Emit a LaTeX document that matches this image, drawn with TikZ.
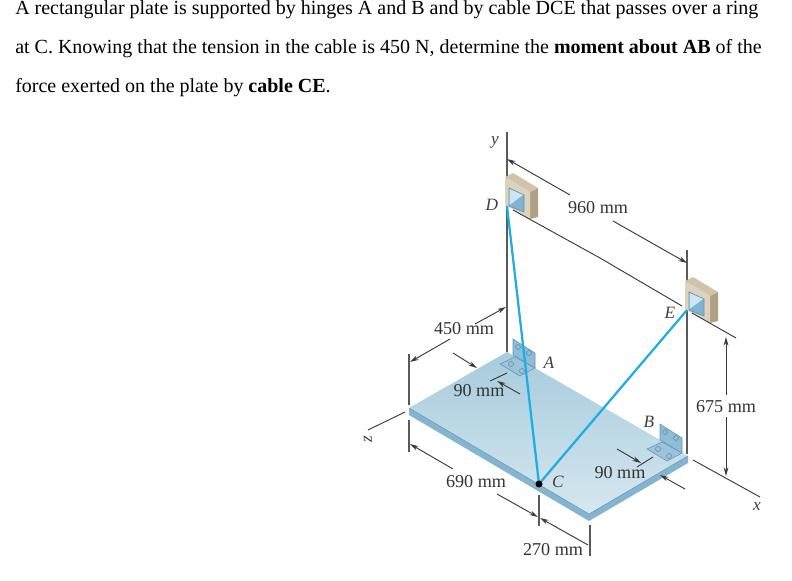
\documentclass[tikz,border=0pt]{standalone}
\usepackage{fontspec}
\setmainfont{Liberation Serif}
\usetikzlibrary{arrows.meta, positioning, calc}
\definecolor{cablecol}{HTML}{1FAEE2}
\definecolor{dimcol}{HTML}{3A3A3A}
\definecolor{extcol}{HTML}{5A5A5A}
\definecolor{sidecol}{HTML}{84B4CF}
\definecolor{platetop}{HTML}{A6CBDD}
\definecolor{platelow}{HTML}{D6E7EF}
\definecolor{hingecol}{HTML}{8FBDD6}
\definecolor{hingebase}{HTML}{9CC4D9}
\definecolor{hingedark}{HTML}{5F94B5}
\definecolor{tantop}{HTML}{CFC3A8}
\definecolor{tanside}{HTML}{AFA185}
\definecolor{tanfront}{HTML}{DDD3BC}
\definecolor{paneldark}{HTML}{7FB4D0}
\definecolor{panellight}{HTML}{CFE6F2}
\tikzset{
    para/.style={anchor=base west, font=\fontsize{15}{16}\selectfont, inner sep=0pt},
    dimtext/.style={font=\fontsize{13.6}{14}\selectfont, text=black!80, inner sep=0pt},
    letter/.style={font=\fontsize{13}{14}\selectfont\itshape, text=black!75, inner sep=0pt},
    dimline/.style={dimcol, line width=0.7pt},
    dimarrow/.style={dimcol, line width=0.7pt, -{Stealth[length=6.5pt,width=3.6pt]}},
    extline/.style={extcol, line width=0.9pt},
    cable/.style={cablecol, line width=1.7pt},
}
\begin{document}
\begin{tikzpicture}[x=0.75pt, y=-0.75pt]
    \useasboundingbox (0,0) rectangle (792,581);

    % problem text
    \node[para] (lineone) at (15,15) {A rectangular plate is supported by hinges A and B and by cable DCE that passes over a ring};
    \node[para] (linetwo) at (15,54) {at C. Knowing that the tension in the cable is 450 N, determine the \textbf{moment about AB} of the};
    \node[para] (linethree) at (15,93) {force exerted on the plate by \textbf{cable CE}.};

    % main points
    \coordinate (D) at (507,206);
    \coordinate (E) at (687,310);
    \coordinate (C) at (539,484);
    \coordinate (left) at (409,408);
    \coordinate (back) at (507,352);
    \coordinate (right) at (688,456);
    \coordinate (front) at (589,514);

    % vertical lines
    \draw[extline] (507,132) -- (back);
    \draw[extline] (687,250) -- (687,454);
    \draw[extline] (409,354) -- (409,405);
    \draw[extline] (409,420) -- (409,452);
    \draw[extline] (539,495) -- (539,526);
    \draw[extline] (590,525) -- (590,556);

    % plate
    \fill[sidecol] (left) -- (front) -- (right) -- ++(0,7) -- ($(front)+(0,7)$) -- ($(left)+(0,7)$) -- cycle;
    \shade[top color=platetop, bottom color=platelow] (left) -- (back) -- (right) -- (front) -- cycle;
    \draw[hingedark, line width=0.4pt] (left) -- (front) -- (right);

    % wall brackets
    \foreach \pt in {D,E} {
        \begin{scope}[shift={(\pt)}]
            \fill[tantop] (-2,-29) -- (6,-33) -- (31,-18) -- (23,-14) -- cycle;
            \fill[tanside] (23,-14) -- (31,-18) -- (31,11) -- (23,13) -- cycle;
            \fill[tanfront] (-2,-29) -- (23,-14) -- (23,13) -- (-2,-1) -- cycle;
            \fill[paneldark, draw=hingedark, line width=0.5pt] (2,-18) -- (17,-11) -- (17,6) -- (2,0) -- cycle;
            \fill[panellight] (2.5,-17) -- (16,-11) -- (2.5,-1) -- cycle;
        \end{scope}
    }
    \draw[dimline] (513,210) -- (600,258) -- (682,306);
    \draw[dimline] (692,313) -- (736,338);

    % hinges
    \foreach \hx/\hy in {513/339, 660/424} {
        \begin{scope}[shift={(\hx,\hy)}]
            \fill[hingecol, draw=hingedark, line width=0.4pt] (0,0) -- (22,14) -- (22,29) -- (0,16) -- cycle;
            \fill[hingebase, draw=hingedark, line width=0.4pt] (-13,25) -- (7,37) -- (22,29) -- (2,18) -- cycle;
            \foreach \ox/\oy in {5/8, 16/14, -2/25, 9/32}
                \draw[hingedark, line width=0.5pt] (\ox,\oy) circle (2.5);
        \end{scope}
    }

    % cables
    \draw[cable] (D) -- (C);
    \draw[cable] (C) -- (E);
    \fill[black] (C) circle (3.5);

    % dimensions
    \draw[dimarrow] (570,195) -- (507,159);
    \draw[dimarrow] (613,221) -- (687,263);
    \node[dimtext] (dimcd) at (598,208) {960 mm};
    \draw[dimarrow] (475,324) -- (506,307);
    \draw[dimarrow] (450,339) -- (410,362);
    \node[dimtext] (dimaw) at (464,329) {450 mm};
    \draw[dimarrow] (453,353) -- (477,368);
    \draw[dimline] (490,381) -- (507,373);
    \draw[dimarrow] (520,394) -- (497,381);
    \node[dimtext] (dimat) at (479,391) {90 mm};
    \draw[dimarrow] (726,395) -- (726,337);
    \draw[dimarrow] (726,417) -- (726,476);
    \node[dimtext] (dimht) at (726,407) {675 mm};
    \draw[dimline] (693,460) -- (760,497);
    \draw[dimarrow] (617,449) -- (641,463);
    \draw[dimline] (637,467) -- (653,457);
    \draw[dimarrow] (685,489) -- (660,475);
    \node[dimtext] (dimbt) at (620,473) {90 mm};
    \draw[dimarrow] (453,469) -- (410,444);
    \node[dimtext] (dimlg) at (476,482) {690 mm};
    \draw[dimarrow] (497,494) -- (538,517);
    \draw[dimarrow] (588,545) -- (540,518);
    \node[dimtext] (dimcf) at (553,550) {270 mm};
    \draw[dimline] (405,412) -- (368,430);

    % letters
    \node[letter] (laby) at (495,142) {y};
    \node[letter] (labd) at (492,205) {D};
    \node[letter] (labe) at (670,313) {E};
    \node[letter] (laba) at (549,363) {A};
    \node[letter] (labb) at (649,422) {B};
    \node[letter] (labc) at (558,482) {C};
    \node[letter] (labx) at (757,507) {x};
    \node[letter, rotate=90] (labz) at (368,439) {z};
\end{tikzpicture}
\end{document}
